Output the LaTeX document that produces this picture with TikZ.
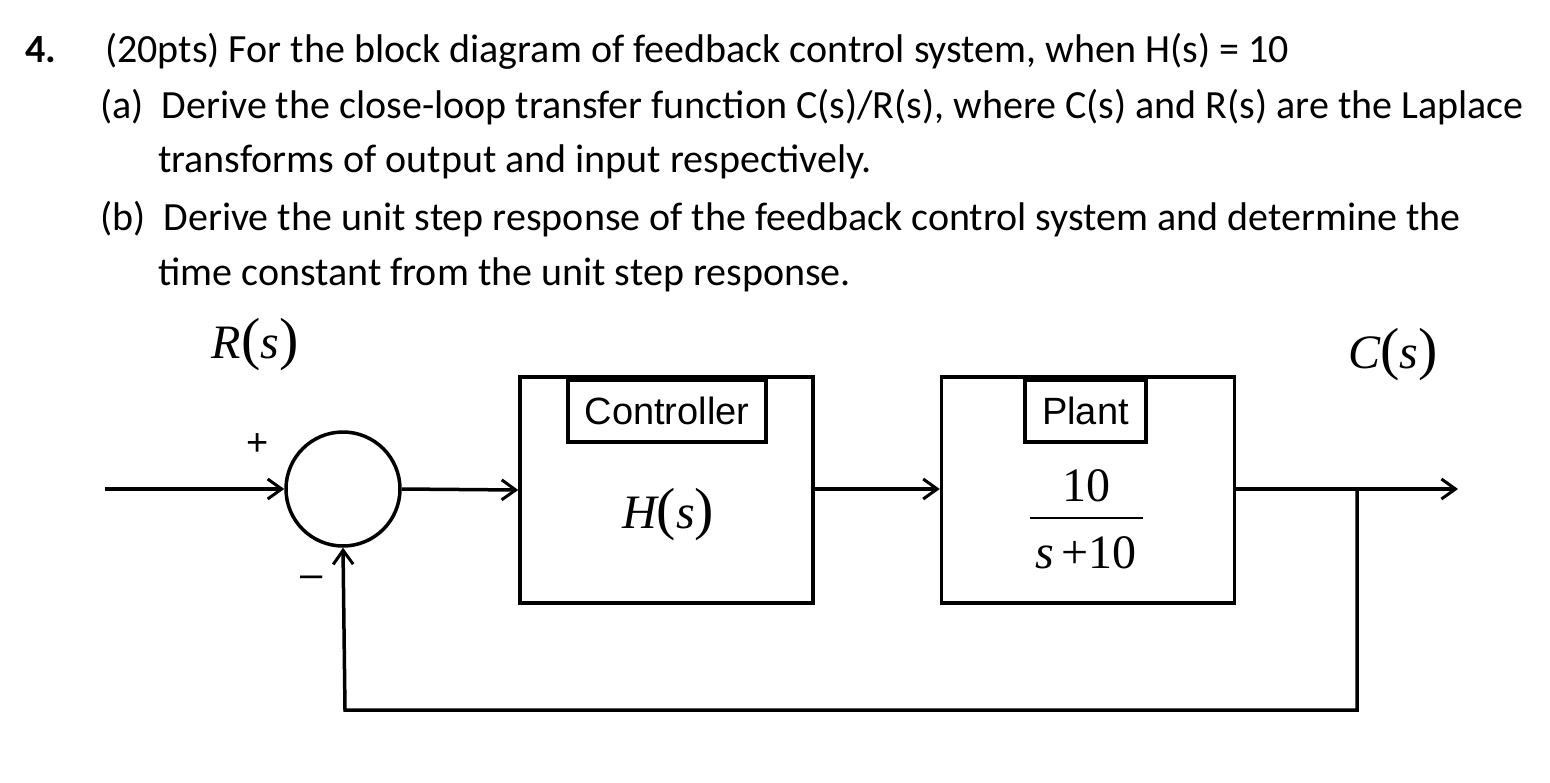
\documentclass[tikz,border=0pt]{standalone}
\usepackage{fontspec}
\setmainfont{Carlito}
\newfontfamily\tms{Liberation Serif}
\newfontfamily\arl{Liberation Sans}
\usetikzlibrary{arrows.meta}
\newcommand{\bp}[1]{{\fontsize{58}{58}\selectfont\upshape #1}}
\begin{document}
\begin{tikzpicture}[x=1pt,y=-1pt,
  txt/.style={anchor=base west,inner sep=0pt,font=\fontsize{40}{40}\selectfont},
  blk/.style={draw,line width=3.5pt,minimum width=293pt,minimum height=226pt,inner sep=0pt},
  lbl/.style={draw,line width=3.5pt,inner sep=0pt,font=\arl\fontsize{38}{38}\selectfont},
  wire/.style={line width=3.5pt},
  arr/.style={wire,-{Straight Barb[length=14pt,width=20pt,line width=3pt]}},
  math/.style={font=\tms\fontsize{48}{48}\selectfont,inner sep=0pt}]
\useasboundingbox (0,0) rectangle (1550,782);
\node[txt,font=\bfseries\fontsize{40}{40}\selectfont] (n4) at (25,62) {4.};
\node[txt] (t0) at (105,62) {(20pts) For the block diagram of feedback control system, when H(s) = 10};
\node[txt] (ta) at (100,118) {(a)\ \ Derive the close-loop transfer function C(s)/R(s), where C(s) and R(s) are the Laplace};
\node[txt] (ta2) at (158,172) {transforms of output and input respectively.};
\node[txt] (tb) at (100,230) {(b)\ \ Derive the unit step response of the feedback control system and determine the};
\node[txt] (tb2) at (158,285) {time constant from the unit step response.};
\node[math] (R) at (255,345) {\itshape R\bp(s\bp)};
\node[math] (C) at (1393,355) {\itshape C\bp(s\bp)};
\node[draw,circle,line width=3.5pt,minimum size=114pt,inner sep=0pt] (sum) at (343,489) {};
\node[blk] (ctrl) at (666.5,490) {};
\node[blk] (plant) at (1088,490) {};
\node[lbl,minimum width=198pt,minimum height=62pt] (cl) at (667,411) {Controller};
\node[lbl,minimum width=121pt,minimum height=62pt] (pl) at (1085.5,411) {Plant};
\node[math] (H) at (668,515) {\itshape H\bp(s\bp)};
\node[math] (num) at (1086,486) {10};
\node[math] (den) at (1086,553) {\itshape s\upshape\,+10};
\draw[line width=1.5pt] (1030,518) -- (1143,518);
\node[font=\arl\fontsize{38}{38}\selectfont] (plus) at (258,445) {+};
\node[font=\arl\fontsize{40}{40}\selectfont] (minus) at (312,582) {–};
\coordinate (in) at (105,489);
\coordinate (out) at (1458,489);
\coordinate (br) at (1357,489);
\coordinate (b1) at (1357,710);
\coordinate (b2) at (345,710);
\draw[arr] (in) -- (sum.west);
\draw[arr] (sum.east) -- (ctrl.west);
\draw[arr] (ctrl.east |- 0,489) -- (plant.west |- 0,489);
\draw[arr] (plant.east |- 0,489) -- (out);
\draw[arr] (br) -- (b1) -- (b2) -- (sum.south);
\end{tikzpicture}
\end{document}
